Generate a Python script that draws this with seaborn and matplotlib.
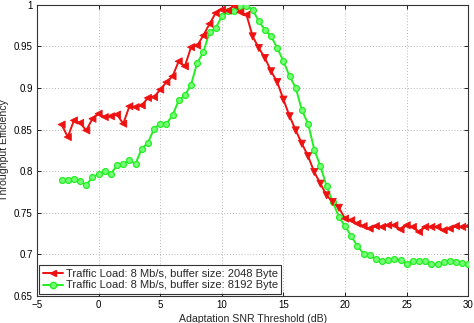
import numpy as np
import pandas as pd
import seaborn as sns
import matplotlib
matplotlib.use("Agg")
import matplotlib.pyplot as plt
from matplotlib.lines import Line2D

# Adaptation SNR threshold (dB)
snr_db = [-3.0, -2.5, -2.0, -1.5, -1.0, -0.5, 0.0, 0.5, 1.0, 1.5, 2.0, 2.5,
          3.0, 3.5, 4.0, 4.5, 5.0, 5.5, 6.0, 6.5, 7.0, 7.5, 8.0, 8.5,
          9.0, 9.5, 10.0, 10.5, 11.0, 11.5, 12.0, 12.5, 13.0, 13.5, 14.0, 14.5,
          15.0, 15.5, 16.0, 16.5, 17.0, 17.5, 18.0, 18.5, 19.0, 19.5, 20.0, 20.5,
          21.0, 21.5, 22.0, 22.5, 23.0, 23.5, 24.0, 24.5, 25.0, 25.5, 26.0, 26.5,
          27.0, 27.5, 28.0, 28.5, 29.0, 29.5, 30.0]

# Throughput efficiency, 8 Mb/s load, 2048 byte buffer
eff_2048 = [0.856, 0.841, 0.861, 0.858, 0.849, 0.863, 0.869, 0.865, 0.866, 0.868, 0.857, 0.878,
            0.877, 0.879, 0.888, 0.889, 0.898, 0.907, 0.914, 0.932, 0.926, 0.949, 0.951, 0.963,
            0.977, 0.990, 0.994, 0.993, 0.999, 0.991, 0.988, 0.962, 0.948, 0.936, 0.920, 0.907,
            0.886, 0.866, 0.849, 0.833, 0.818, 0.799, 0.785, 0.771, 0.763, 0.756, 0.743, 0.741,
            0.737, 0.734, 0.731, 0.734, 0.733, 0.735, 0.735, 0.730, 0.735, 0.733, 0.727, 0.733,
            0.733, 0.733, 0.729, 0.731, 0.734, 0.733, 0.734]

# Throughput efficiency, 8 Mb/s load, 8192 byte buffer
eff_8192 = [0.789, 0.789, 0.791, 0.788, 0.783, 0.793, 0.796, 0.800, 0.797, 0.807, 0.809, 0.813,
            0.809, 0.827, 0.834, 0.851, 0.857, 0.857, 0.867, 0.885, 0.891, 0.904, 0.930, 0.943,
            0.967, 0.972, 0.986, 0.992, 0.993, 0.999, 0.999, 0.994, 0.980, 0.970, 0.962, 0.948,
            0.932, 0.914, 0.900, 0.873, 0.857, 0.826, 0.806, 0.782, 0.763, 0.745, 0.734, 0.722,
            0.710, 0.701, 0.699, 0.694, 0.692, 0.693, 0.695, 0.693, 0.689, 0.692, 0.692, 0.692,
            0.688, 0.688, 0.691, 0.692, 0.691, 0.690, 0.689]

labels = ["Traffic Load: 8 Mb/s, buffer size: 2048 Byte",
          "Traffic Load: 8 Mb/s, buffer size: 8192 Byte"]

x_ticks = [-5, 0, 5, 10, 15, 20, 25, 30]
y_ticks = [0.65, 0.7, 0.75, 0.8, 0.85, 0.9, 0.95, 1.0]

RED = "#ee1111"
GREEN = "#22ee22"

sns.set_style("ticks")
plt.rcParams["font.family"] = ["Liberation Sans", "DejaVu Sans"]

df = pd.concat([
    pd.DataFrame({"snr": snr_db, "eff": eff_2048, "series": labels[0]}),
    pd.DataFrame({"snr": snr_db, "eff": eff_8192, "series": labels[1]}),
], ignore_index=True)

# marker orientation follows the direction of the red curve
df["marker"] = "o"
red_rows = df["series"] == labels[0]
df.loc[red_rows, "marker"] = "<"
df.loc[red_rows & df["snr"].between(12.5, 19.5), "marker"] = "v"

fig = plt.figure(figsize=(4.74, 3.23), dpi=100)
ax = fig.add_axes([0.078, 0.0836, 0.910, 0.9018])

palette = {labels[0]: RED, labels[1]: GREEN}
sns.lineplot(data=df, x="snr", y="eff", hue="series", palette=palette,
             linewidth=1.4, legend=False, ax=ax, sort=False, zorder=2)

green = df[df["series"] == labels[1]]
sns.scatterplot(data=green, x="snr", y="eff", marker="o", s=18,
                color="#77ff77", edgecolor=GREEN, linewidth=0.9,
                legend=False, ax=ax, zorder=3)
red = df[red_rows]
sns.scatterplot(data=red, x="snr", y="eff", style="marker",
                markers={"<": "<", "v": "v"}, s=26,
                color=RED, edgecolor=RED, linewidth=0.6,
                legend=False, ax=ax, zorder=4)

ax.set_xlim(-5, 30)
ax.set_ylim(0.65, 1.0)
ax.set_xticks(x_ticks)
ax.set_xticklabels([str(t).replace("-", "\u2212") for t in x_ticks])
ax.set_yticks(y_ticks)
ax.set_yticklabels([f"{t:g}" for t in y_ticks])
ax.tick_params(direction="in", top=True, right=True, length=3, width=0.6,
               labelsize=7, pad=3, colors="black")
ax.grid(True, linestyle=(0, (1, 2)), color="#b8b8b8", linewidth=0.7)
for sp in ax.spines.values():
    sp.set_color("#333333")
    sp.set_linewidth(0.8)

ax.set_xlabel("Adaptation SNR Threshold (dB)", fontsize=7.6, labelpad=3)
ax.set_ylabel("Throughput Efficiency", fontsize=7.6, labelpad=2)
ax.yaxis.set_label_coords(-0.066, 0.5)

handles = [
    Line2D([], [], color=RED, marker="<", markersize=5, linewidth=1.4,
           markerfacecolor=RED, markeredgecolor=RED),
    Line2D([], [], color=GREEN, marker="o", markersize=4.5, linewidth=1.4,
           markerfacecolor="#77ff77", markeredgecolor=GREEN),
]
leg = ax.legend(handles, labels, loc="lower left", fontsize=8,
                frameon=True, fancybox=False, edgecolor="black",
                borderaxespad=0.2, handlelength=1.8, handletextpad=0.3,
                borderpad=0.3, labelspacing=0.15)
leg.get_frame().set_linewidth(0.8)

fig.savefig("out.png", dpi=100)
